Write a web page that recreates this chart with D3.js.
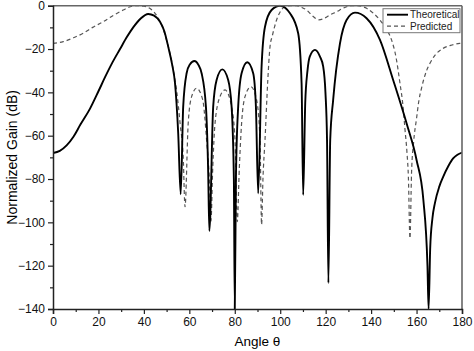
<!DOCTYPE html>
<html>
<head>
<meta charset="utf-8">
<script src="https://cdn.jsdelivr.net/npm/d3@7"></script>
<style>
  body { margin: 0; background: #fff; }
  text { font-family: "Liberation Sans", Arial, sans-serif; }
</style>
</head>
<body>
<div id="chart"></div>
<script>
// data
const theoAngle = [0, 3, 6, 9, 12, 16.3, 20, 22.9, 26, 29.5, 32.5, 35.3, 38.5, 41.9, 44.5, 47.1, 49, 50.7, 52.4, 53.7, 55.1, 56.2,
  57.3, 58.8, 60.3, 62.2, 64, 65.4, 67.3, 68.3, 68.8,
  70.5, 72, 74.5, 77.1, 78.6, 79.6, 80,
  80.5, 81.5, 83, 85.5, 88.1, 89.3, 90.3,
  91.8, 93.3, 96.2, 99.9, 104.3, 107.9, 109.4, 110.1,
  111, 112, 113, 115.3, 117.5, 118.9, 119.9, 120.6, 121.2,
  122, 123.3, 126.3, 129.2, 132.9, 138, 143.9, 149.7, 155.6, 160, 163, 164.8, 165.3,
  166, 167, 168.1, 170, 171.7, 174, 176.1, 178, 180];
const theoGain = [-68, -67, -64.5, -60.5, -55, -47.5, -39.5, -33, -26.5, -20, -14.5, -10, -6, -3.8, -4.6, -7.4, -11.8, -18.9, -27, -35.8, -58.9, -87,
  -46.6, -31.2, -27, -25.5, -27.3, -31.2, -46.6, -77, -104,
  -46.6, -34.3, -29.4, -34.3, -46.6, -80, -140,
  -80, -46.6, -31.2, -26.1, -31.2, -46.6, -86.6,
  -28, -9.7, -2, 0, -3.5, -12.7, -35.7, -87.4,
  -45, -30, -23.5, -20.4, -23.5, -28, -40, -62, -128,
  -62, -43.5, -17.4, -6.6, -3.2, -5.8, -15.8, -34.3, -54.3, -71.2, -89.7, -120, -140,
  -112, -98, -91, -83.5, -79, -74, -70.5, -68.8, -67.8];

const predAngle = [0, 4.5, 9, 13.3, 17.5, 22.1, 26.5, 30.9, 34, 36.8, 39.5, 41.2, 43, 44.9, 46.5, 48, 50, 51.5, 53, 54.5, 56, 57.3, 58.1,
  59.5, 61, 63.2, 65.9, 67.6, 68.8, 69.5,
  70.3, 71.3, 73.5, 75.7, 78.6, 80.1, 81.1,
  82, 83, 84.5, 87.1, 89.6, 91.1, 91.8,
  92.4, 93.3, 94.5, 95.5, 96.5, 98.4, 100.5, 102, 104.5, 107.2, 109.5, 111.6, 114, 117, 120, 122, 124.8, 128, 131.4, 134,
  138, 141, 143.9, 146.5, 149, 151, 152.7, 154, 154.9, 155.8, 156.4, 157.1,
  157.8, 158.7, 160, 161, 162.2, 164.4, 165.9, 168, 171.7, 175, 179, 180];
const predGain = [-17.4, -16.6, -14.8, -12.7, -10, -7.4, -4.5, -2, -0.5, 0, -0.2, -0.5, -1.5, -3.5, -6, -9.5, -16, -22, -30, -40, -55, -69.7, -92.8,
  -54.3, -42, -38.1, -43.5, -62, -80, -99.7,
  -75, -54.3, -42, -38.9, -46.6, -62, -99.7,
  -75, -54.3, -42, -37.4, -43.5, -62, -101,
  -80, -62, -35, -19, -14, -6.6, -2, -0.5, 0, 0, -0.8, -2, -4.5, -6.5, -5.5, -4.2, -2.8, -1, 0, 0,
  -1.2, -3.5, -6.6, -10.5, -15.8, -24, -35.8, -46, -57, -68, -78.9, -107.4,
  -77, -63, -52, -44, -38, -30, -26.6, -23, -19.7, -18.3, -17.4, -17.3];

const xTicks = [0, 20, 40, 60, 80, 100, 120, 140, 160, 180];
const yTicks = [0, -20, -40, -60, -80, -100, -120, -140];
const seriesNames = ['Theoretical', 'Predicted'];

const width = 474, height = 351;
const margin = { top: 5.7, right: 12, bottom: 42, left: 53 };
const w = width - margin.left - margin.right;
const h = height - margin.top - margin.bottom;

const svg = d3.select('#chart').append('svg')
  .attr('width', width)
  .attr('height', height);

const g = svg.append('g')
  .attr('transform', `translate(${margin.left},${margin.top})`);

const x = d3.scaleLinear().domain([0, 180]).range([0, w]);
const y = d3.scaleLinear().domain([-140, 0]).range([h, 0]);

g.append('defs').append('clipPath').attr('id', 'clip')
  .append('rect').attr('x', 0).attr('y', -1).attr('width', w).attr('height', h + 1);

// curves
const line = d3.line()
  .x(d => x(d[0]))
  .y(d => y(d[1]))
  .curve(d3.curveMonotoneX);

const predData = predAngle.map((a, i) => [a, predGain[i]]);
const theoData = theoAngle.map((a, i) => [a, theoGain[i]]);

g.append('path')
  .datum(predData)
  .attr('clip-path', 'url(#clip)')
  .attr('fill', 'none')
  .attr('stroke', '#555')
  .attr('stroke-width', 1.2)
  .attr('stroke-dasharray', '4,3')
  .attr('d', line);

g.append('path')
  .datum(theoData)
  .attr('clip-path', 'url(#clip)')
  .attr('fill', 'none')
  .attr('stroke', '#000')
  .attr('stroke-width', 1.9)
  .attr('d', line);

// frame top/right
g.append('line').attr('x1', 0).attr('x2', w).attr('y1', 0).attr('y2', 0)
  .attr('stroke', '#666').attr('stroke-width', 1.6);
g.append('line').attr('x1', w).attr('x2', w).attr('y1', 0).attr('y2', h)
  .attr('stroke', '#666').attr('stroke-width', 1.6);

// axes
const xAxis = g.append('g')
  .attr('transform', `translate(0,${h})`)
  .call(d3.axisBottom(x).tickValues(xTicks).tickSize(5).tickPadding(3));
const yAxis = g.append('g')
  .call(d3.axisLeft(y).tickValues(yTicks).tickSize(5).tickPadding(3));

// minor ticks
g.append('g').attr('transform', `translate(0,${h})`)
  .call(d3.axisBottom(x).tickValues(d3.range(10, 180, 20)).tickSize(3).tickFormat(''))
  .call(a => a.select('.domain').remove());
g.append('g')
  .call(d3.axisLeft(y).tickValues(d3.range(-130, 0, 20)).tickSize(3).tickFormat(''))
  .call(a => a.select('.domain').remove());

[xAxis, yAxis].forEach(a => {
  a.select('.domain').attr('stroke', '#222').attr('stroke-width', 1.5);
  a.selectAll('text').style('font-size', '12px').style('font-family', '"Liberation Sans", Arial, sans-serif').attr('fill', '#111');
});
g.selectAll('.tick line').attr('stroke', '#222').attr('stroke-width', 1.2);

// axis titles
svg.append('text')
  .attr('x', margin.left + w / 2)
  .attr('y', 346)
  .attr('text-anchor', 'middle')
  .style('font-size', '13.5px')
  .text('Angle θ');

svg.append('text')
  .attr('transform', `translate(17,${margin.top + h / 2}) rotate(-90)`)
  .attr('text-anchor', 'middle')
  .style('font-size', '14px')
  .text('Normalized Gain (dB)');

// legend
const lg = g.append('g').attr('transform', `translate(${w - 79},3)`);
lg.append('rect')
  .attr('width', 77).attr('height', 24)
  .attr('fill', '#fff').attr('stroke', '#777').attr('stroke-width', 1);
seriesNames.forEach((name, i) => {
  const yy = 6 + i * 11.5;
  lg.append('line')
    .attr('x1', 4).attr('x2', 25).attr('y1', yy).attr('y2', yy)
    .attr('stroke', i === 0 ? '#000' : '#555')
    .attr('stroke-width', i === 0 ? 1.9 : 1.2)
    .attr('stroke-dasharray', i === 0 ? null : '4,3');
  lg.append('text')
    .attr('x', 27).attr('y', yy + 3.5)
    .style('font-size', '10px')
    .attr('fill', '#222')
    .text(name);
});
</script>
</body>
</html>
